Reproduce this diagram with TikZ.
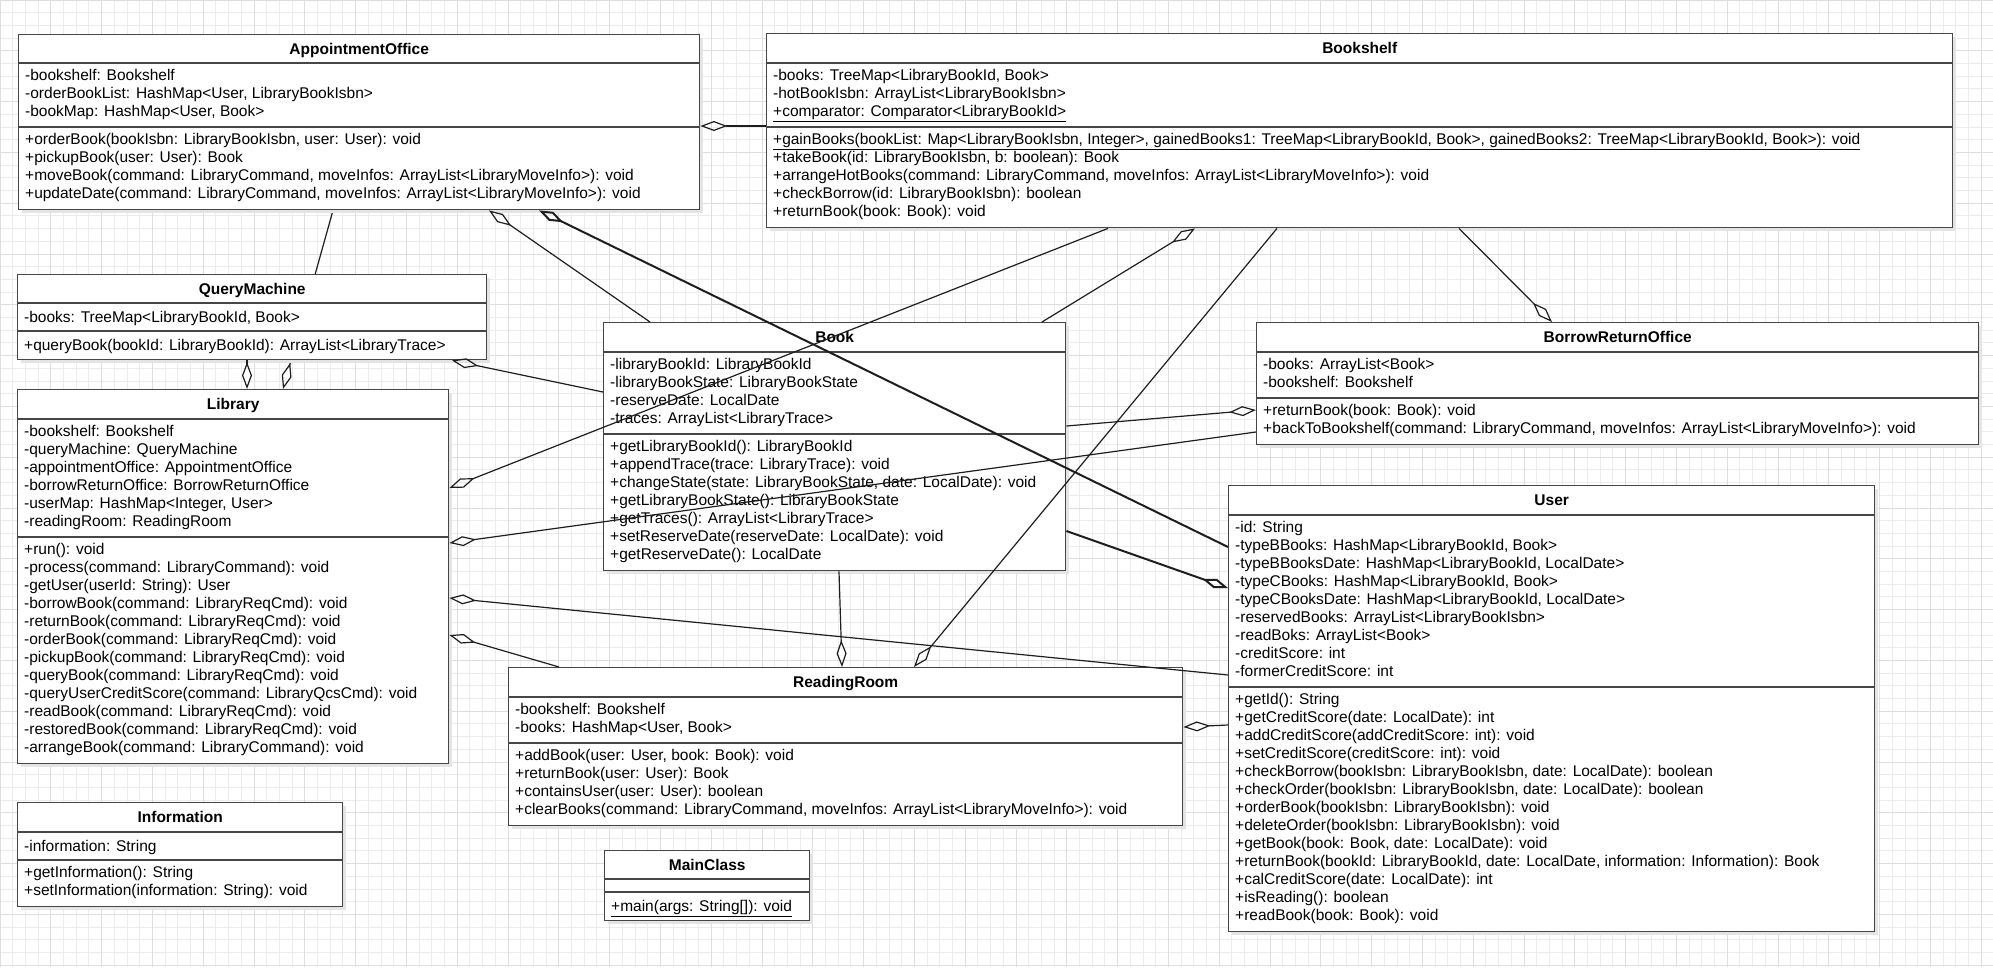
\documentclass[tikz,border=0pt]{standalone}
\usepackage{fontspec}
\setmainfont{Liberation Sans}
\usetikzlibrary{arrows.meta,positioning,shadows,backgrounds}
\definecolor{umlLine}   {RGB}{30, 30, 30}
\definecolor{boxLine}   {RGB}{70, 70, 70}
\definecolor{gridMinor} {RGB}{236,236,236}
\definecolor{gridMajor} {RGB}{222,222,222}
\definecolor{shadowGray}{RGB}{228,228,228}

\begin{document}
\begin{tikzpicture}[x=1pt,y=-1pt,
    font=\fontsize{15.5}{18}\selectfont,
    cls/.style={draw=boxLine,line width=1.4pt,fill=white,anchor=north west,inner sep=0pt,
      drop shadow={shadow xshift=3pt,shadow yshift=-3pt,fill=shadowGray,opacity=1}},
    ctitle/.style={font=\fontsize{15.5}{18}\selectfont\bfseries,anchor=base},
    member/.style={align=left,anchor=north west,inner sep=0pt,execute at begin node=\strut},
    divider/.style={draw=boxLine,line width=1.4pt},
    link/.style={draw=umlLine,line width=1.2pt},
    agg/.style={link,{Diamond[open,length=27pt,width=10pt]}-}]
        \useasboundingbox (0,0) rectangle (1993,967);

        % AppointmentOffice
        \node[cls,minimum width=681,minimum height=175] (ao) at (18,34) {};
        \node[ctitle] (ao-t) at ([shift={(0,20)}]ao.north) {AppointmentOffice};
        \node[member] (ao-a) at ([shift={(7,35.4)}]ao.north west)
          {-bookshelf: Bookshelf\\-orderBookList: HashMap<User, LibraryBookIsbn>\\-bookMap: HashMap<User, Book>};
        \node[member] (ao-m) at ([shift={(7,99.4)}]ao.north west)
          {+orderBook(bookIsbn: LibraryBookIsbn, user: User): void\\+pickupBook(user: User): Book\\
           +moveBook(command: LibraryCommand, moveInfos: ArrayList<LibraryMoveInfo>): void\\
           +updateDate(command: LibraryCommand, moveInfos: ArrayList<LibraryMoveInfo>): void};

        % Bookshelf
        \node[cls,minimum width=1186,minimum height=194] (bs) at (766,33) {};
        \node[ctitle] (bs-t) at ([shift={(0,20)}]bs.north) {Bookshelf};
        \node[member] (bs-a) at ([shift={(7,36.4)}]bs.north west)
          {-books: TreeMap<LibraryBookId, Book>\\-hotBookIsbn: ArrayList<LibraryBookIsbn>\\
           \underline{+comparator: Comparator<LibraryBookId>}};
        \node[member] (bs-m) at ([shift={(7,100.4)}]bs.north west)
          {\underline{+gainBooks(bookList: Map<LibraryBookIsbn, Integer>, gainedBooks1: TreeMap<LibraryBookId, Book>, gainedBooks2: TreeMap<LibraryBookId, Book>): void}\\
           +takeBook(id: LibraryBookIsbn, b: boolean): Book\\
           +arrangeHotBooks(command: LibraryCommand, moveInfos: ArrayList<LibraryMoveInfo>): void\\
           +checkBorrow(id: LibraryBookIsbn): boolean\\+returnBook(book: Book): void};

        % QueryMachine
        \node[cls,minimum width=469,minimum height=85] (qm) at (17,274) {};
        \node[ctitle] (qm-t) at ([shift={(0,20)}]qm.north) {QueryMachine};
        \node[member] (qm-a) at ([shift={(7,35.4)}]qm.north west) {-books: TreeMap<LibraryBookId, Book>};
        \node[member] (qm-m) at ([shift={(7,63.4)}]qm.north west)
          {+queryBook(bookId: LibraryBookId): ArrayList<LibraryTrace>};

        % Library
        \node[cls,minimum width=431,minimum height=374] (lib) at (17,389) {};
        \node[ctitle] (lib-t) at ([shift={(0,20)}]lib.north) {Library};
        \node[member] (lib-a) at ([shift={(7,36.4)}]lib.north west)
          {-bookshelf: Bookshelf\\-queryMachine: QueryMachine\\-appointmentOffice: AppointmentOffice\\
           -borrowReturnOffice: BorrowReturnOffice\\-userMap: HashMap<Integer, User>\\-readingRoom: ReadingRoom};
        \node[member] (lib-m) at ([shift={(7,154.4)}]lib.north west)
          {+run(): void\\-process(command: LibraryCommand): void\\-getUser(userId: String): User\\
           -borrowBook(command: LibraryReqCmd): void\\-returnBook(command: LibraryReqCmd): void\\
           -orderBook(command: LibraryReqCmd): void\\-pickupBook(command: LibraryReqCmd): void\\
           -queryBook(command: LibraryReqCmd): void\\-queryUserCreditScore(command: LibraryQcsCmd): void\\
           -readBook(command: LibraryReqCmd): void\\-restoredBook(command: LibraryReqCmd): void\\
           -arrangeBook(command: LibraryCommand): void};

        % Book
        \node[cls,minimum width=462,minimum height=248] (book) at (603,322) {};
        \node[ctitle] (book-t) at ([shift={(0,20)}]book.north) {Book};
        \node[member] (book-a) at ([shift={(7,36.4)}]book.north west)
          {-libraryBookId: LibraryBookId\\-libraryBookState: LibraryBookState\\-reserveDate: LocalDate\\
           -traces: ArrayList<LibraryTrace>};
        \node[member] (book-m) at ([shift={(7,118.4)}]book.north west)
          {+getLibraryBookId(): LibraryBookId\\+appendTrace(trace: LibraryTrace): void\\
           +changeState(state: LibraryBookState, date: LocalDate): void\\+getLibraryBookState(): LibraryBookState\\
           +getTraces(): ArrayList<LibraryTrace>\\+setReserveDate(reserveDate: LocalDate): void\\
           +getReserveDate(): LocalDate};

        % BorrowReturnOffice
        \node[cls,minimum width=722,minimum height=122] (bro) at (1256,322) {};
        \node[ctitle] (bro-t) at ([shift={(0,20)}]bro.north) {BorrowReturnOffice};
        \node[member] (bro-a) at ([shift={(7,36.4)}]bro.north west)
          {-books: ArrayList<Book>\\-bookshelf: Bookshelf};
        \node[member] (bro-m) at ([shift={(7,82.4)}]bro.north west)
          {+returnBook(book: Book): void\\
           +backToBookshelf(command: LibraryCommand, moveInfos: ArrayList<LibraryMoveInfo>): void};

        % User
        \node[cls,minimum width=646,minimum height=446] (user) at (1228,485) {};
        \node[ctitle] (user-t) at ([shift={(0,20)}]user.north) {User};
        \node[member] (user-a) at ([shift={(7,36.4)}]user.north west)
          {-id: String\\-typeBBooks: HashMap<LibraryBookId, Book>\\-typeBBooksDate: HashMap<LibraryBookId, LocalDate>\\
           -typeCBooks: HashMap<LibraryBookId, Book>\\-typeCBooksDate: HashMap<LibraryBookId, LocalDate>\\
           -reservedBooks: ArrayList<LibraryBookIsbn>\\-readBoks: ArrayList<Book>\\-creditScore: int\\
           -formerCreditScore: int};
        \node[member] (user-m) at ([shift={(7,208.4)}]user.north west)
          {+getId(): String\\+getCreditScore(date: LocalDate): int\\+addCreditScore(addCreditScore: int): void\\
           +setCreditScore(creditScore: int): void\\+checkBorrow(bookIsbn: LibraryBookIsbn, date: LocalDate): boolean\\
           +checkOrder(bookIsbn: LibraryBookIsbn, date: LocalDate): boolean\\+orderBook(bookIsbn: LibraryBookIsbn): void\\
           +deleteOrder(bookIsbn: LibraryBookIsbn): void\\+getBook(book: Book, date: LocalDate): void\\
           +returnBook(bookId: LibraryBookId, date: LocalDate, information: Information): Book\\
           +calCreditScore(date: LocalDate): int\\+isReading(): boolean\\+readBook(book: Book): void};

        % ReadingRoom
        \node[cls,minimum width=674,minimum height=158] (rr) at (508,667) {};
        \node[ctitle] (rr-t) at ([shift={(0,20)}]rr.north) {ReadingRoom};
        \node[member] (rr-a) at ([shift={(7,36.4)}]rr.north west)
          {-bookshelf: Bookshelf\\-books: HashMap<User, Book>};
        \node[member] (rr-m) at ([shift={(7,82.4)}]rr.north west)
          {+addBook(user: User, book: Book): void\\+returnBook(user: User): Book\\
           +containsUser(user: User): boolean\\
           +clearBooks(command: LibraryCommand, moveInfos: ArrayList<LibraryMoveInfo>): void};

        % MainClass
        \node[cls,minimum width=205,minimum height=70] (main) at (604,850) {};
        \node[ctitle] (main-t) at ([shift={(0,20)}]main.north) {MainClass};
        \node[member] (main-m) at ([shift={(7,48.4)}]main.north west) {\underline{+main(args: String[]): void}};

        % Information
        \node[cls,minimum width=325,minimum height=104] (info) at (17,802) {};
        \node[ctitle] (info-t) at ([shift={(0,20)}]info.north) {Information};
        \node[member] (info-a) at ([shift={(7,36.4)}]info.north west) {-information: String};
        \node[member] (info-m) at ([shift={(7,64.4)}]info.north west)
          {+getInformation(): String\\+setInformation(information: String): void};

        % compartment lines
        \foreach \c/\d in {ao/29,ao/93,bs/30,bs/94,qm/29,qm/57,lib/30,lib/148,book/30,book/112,
                           bro/30,bro/76,user/30,user/202,rr/30,rr/76,main/29,main/42,info/30,info/58}{
          \draw[divider] ([shift={(0,\d)}]\c.north west) -- ([shift={(0,\d)}]\c.north east);
        }

        % aggregations (diamond at the owner)
        \draw[agg] ([shift={(0,92)}]ao.north east) -- ([shift={(0,93)}]bs.north west);
        \draw[agg] ([shift={(230,0)}]lib.north west) -- ([shift={(230,0)}]qm.south west);
        \draw[agg] ([shift={(471,0)}]ao.south west) -- ([shift={(47,0)}]book.north west);
        \draw[agg,line width=2pt] ([shift={(521,0)}]ao.south west) -- ([shift={(0,62)}]user.north west);
        \draw[agg] ([shift={(0,99)}]lib.north east) -- ([shift={(342,0)}]bs.south west);
        \draw[agg] ([shift={(429,0)}]bs.south west) -- ([shift={(439,0)}]book.north west);
        \draw[agg] ([shift={(406,0)}]rr.north west) -- ([shift={(511,0)}]bs.south west);
        \draw[agg] ([shift={(296,0)}]bro.north west) -- ([shift={(693,0)}]bs.south west);
        \draw[agg] ([shift={(435,0)}]qm.south west) -- ([shift={(0,70)}]book.north west);
        \draw[agg] ([shift={(0,154)}]lib.north east) -- ([shift={(0,110)}]bro.north west);
        \draw[agg] ([shift={(0,209)}]lib.north east) -- ([shift={(0,190)}]user.north west);
        \draw[agg] ([shift={(0,246)}]lib.north east) -- ([shift={(51,0)}]rr.north west);
        \draw[agg] ([shift={(0,88)}]bro.north west) -- ([shift={(0,104)}]book.north east);
        \draw[agg,line width=2pt] ([shift={(0,103)}]user.north west) -- ([shift={(0,209)}]book.north east);
        \draw[agg] ([shift={(334,0)}]rr.north west) -- ([shift={(236,0)}]book.south west);
        \draw[agg] ([shift={(0,60)}]rr.north east) -- ([shift={(0,240)}]user.north west);

        \begin{scope}[on background layer]
          \draw[gridMinor,line width=1pt,step=12.7pt] (0,967) grid (1993,0);
          \draw[gridMajor,line width=1pt,step=50.8pt] (0,967) grid (1993,0);
          % runs behind the QueryMachine box
          \draw[agg] ([shift={(266,0)}]lib.north west) -- ([shift={(315,0)}]ao.south west);
        \end{scope}
      \end{tikzpicture}
\end{document}
